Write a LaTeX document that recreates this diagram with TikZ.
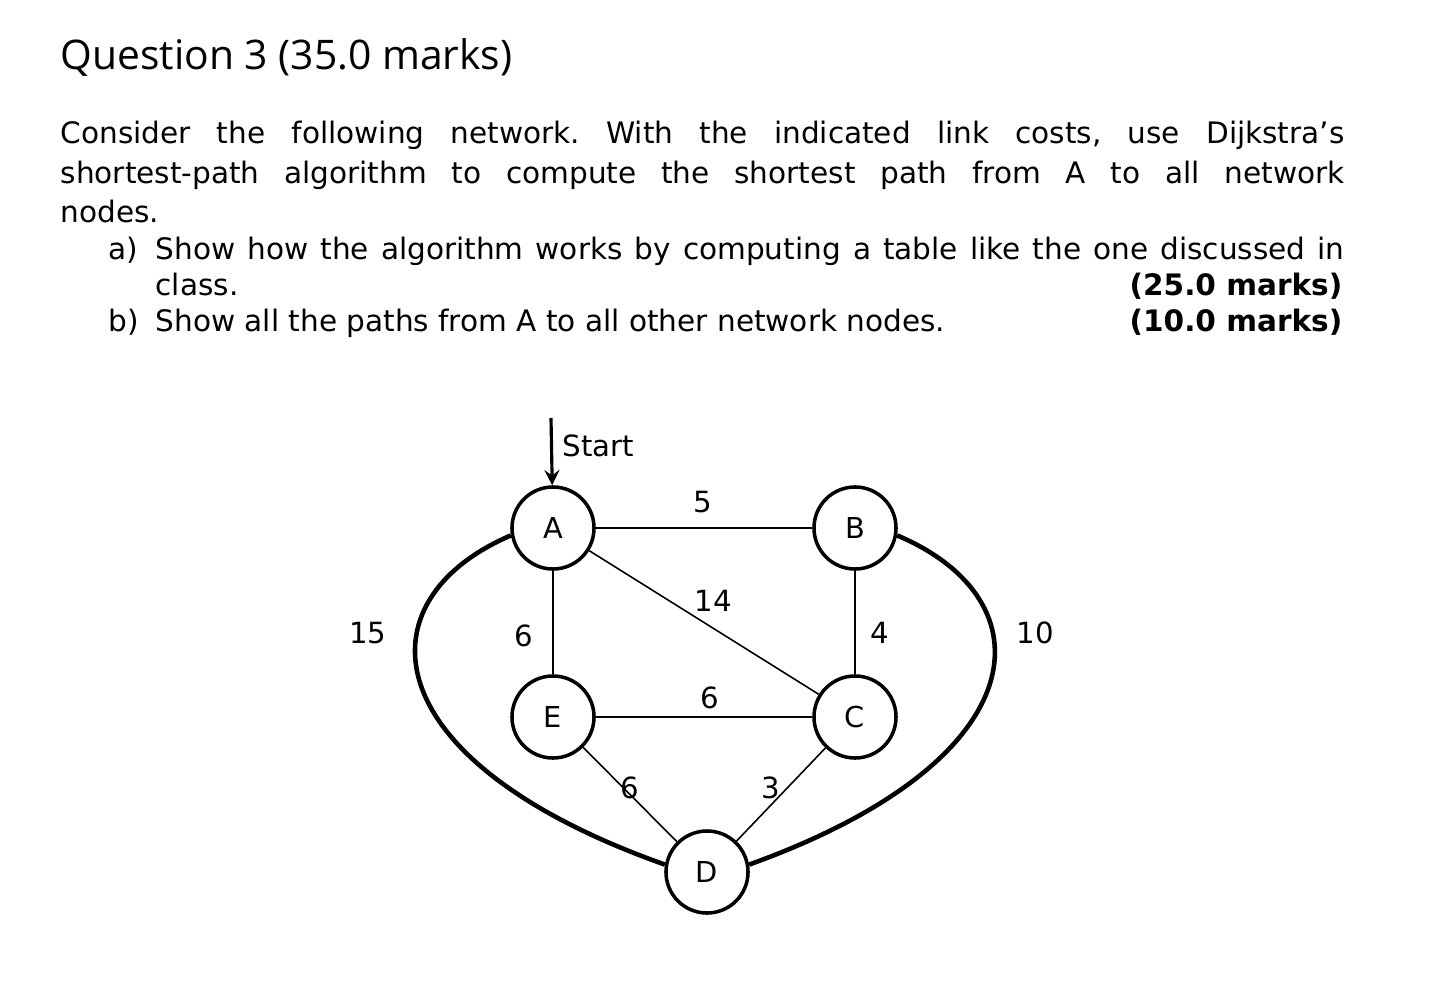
\documentclass[tikz,border=0pt]{standalone}
\usepackage{fontspec}
\setmainfont{DejaVu Sans}
\newfontfamily\titlefont{Open Sans}
\frenchspacing
\begin{document}
\begin{tikzpicture}[x=0.01cm,y=-0.01cm,
  body/.style={anchor=base west,inner sep=0pt,font=\fontsize{8.4pt}{9pt}\selectfont},
  bodyr/.style={anchor=base east,inner sep=0pt,font=\fontsize{8.4pt}{9pt}\selectfont\bfseries},
  vert/.style={circle,draw,line width=1pt,minimum size=0.82cm,inner sep=0pt,font=\fontsize{8.2pt}{9pt}\selectfont},
  lab/.style={inner sep=0pt,font=\fontsize{8.3pt}{9pt}\selectfont},
  edge/.style={line width=0.45pt},
  thickedge/.style={line width=1.3pt}]
\useasboundingbox (0,0) rectangle (1430,1000);
\node[anchor=base west,inner sep=0pt,font=\titlefont\fontsize{11.6pt}{12pt}\selectfont] (t) at (60,69) {Question 3 (35.0 marks)};
\node[body] (l1) at (60,143) {\makebox[12.83cm][s]{Consider the following network. With the indicated link costs, use Dijkstra’s}};
\node[body] (l2) at (60,183) {\makebox[12.83cm][s]{shortest-path algorithm to compute the shortest path from A to all network}};
\node[body] (l3) at (60,222) {nodes.};
\node[body] (a1) at (108,259) {a)};
\node[body] (a2) at (155,259) {\makebox[11.88cm][s]{Show how the algorithm works by computing a table like the one discussed in}};
\node[body] (a3) at (155,295) {class.};
\node[bodyr] (am) at (1343,295) {(25.0 marks)};
\node[body] (b1) at (108,331) {b)};
\node[body] (b2) at (155,331) {Show all the paths from A to all other network nodes.};
\node[bodyr] (bm) at (1343,331) {(10.0 marks)};

\node[vert] (A) at (553,528) {A};
\node[vert] (B) at (855,528) {B};
\node[vert] (E) at (553,717) {E};
\node[vert] (C) at (855,717) {C};
\node[vert] (D) at (707,872) {D};
\coordinate (S) at (551,418);
\draw[line width=0.9pt,-{stealth}] (S) -- (A);
\node[lab,anchor=west] (st) at (562,446) {Start};

\draw[edge] (A) -- (B);
\draw[edge] (A) -- (C);
\draw[edge] (A) -- (E);
\draw[edge] (B) -- (C);
\draw[edge] (E) -- (C);
\draw[edge] (E) -- (D);
\draw[edge] (C) -- (D);
\draw[thickedge] (A.190) .. controls (360,600) and (370,760) .. (D.170);
\draw[thickedge] (B.-10) .. controls (1050,600) and (1040,760) .. (D.10);

\node[lab] at (703,502) {5};
\node[lab] at (713,601) {14};
\node[lab] at (524,636) {6};
\node[lab] at (880,633) {4};
\node[lab] at (710,698) {6};
\node[lab] at (630,788) {6};
\node[lab] at (771,788) {3};
\node[lab] at (368,633) {15};
\node[lab] at (1035,633) {10};
\end{tikzpicture}
\end{document}
